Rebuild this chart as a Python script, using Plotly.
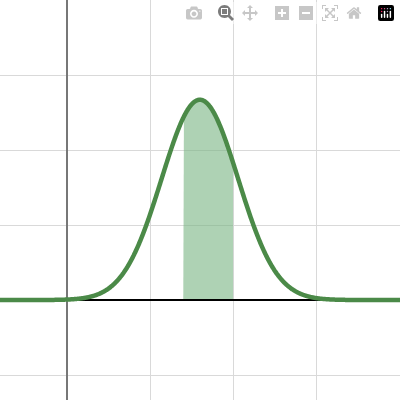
import numpy as np
import plotly.graph_objects as go

mu = 1.6
sigma = 0.46
amp = 2.67
shade_lo, shade_hi = 1.4, 2.0
x_range = [-0.807, 4.01]
y_range = [-1.333, 4.0]

xs = np.linspace(x_range[0], x_range[1], 1200)
ys = amp * np.exp(-((xs - mu) ** 2) / (2 * sigma ** 2))
xsh = np.linspace(shade_lo, shade_hi, 300)
ysh = amp * np.exp(-((xsh - mu) ** 2) / (2 * sigma ** 2))

fig = go.Figure()
fig.add_trace(go.Scatter(x=np.concatenate([[shade_lo], xsh, [shade_hi]]),
                         y=np.concatenate([[0], ysh, [0]]), fill="toself",
                         fillcolor="rgba(120,180,130,0.6)", line=dict(width=0), mode="lines"))
fig.add_trace(go.Scatter(x=[x_range[0], x_range[1]], y=[0, 0], mode="lines",
                         line=dict(color="black", width=2)))
fig.add_trace(go.Scatter(x=xs, y=ys, mode="lines", line=dict(color="#4b8a48", width=4.5, simplify=False)))
fig.update_layout(width=400, height=400, margin=dict(l=0, r=0, t=0, b=0),
                  plot_bgcolor="white", paper_bgcolor="white", showlegend=False)
fig.update_xaxes(range=x_range, dtick=1, gridcolor="#d9d9d9", zeroline=True,
                 zerolinecolor="#777", zerolinewidth=1.5, showticklabels=False)
fig.update_yaxes(range=y_range, dtick=1, gridcolor="#d9d9d9", zeroline=False,
                 showticklabels=False)
fig.write_html("out.html", post_script="document.body.style.margin='0';")
